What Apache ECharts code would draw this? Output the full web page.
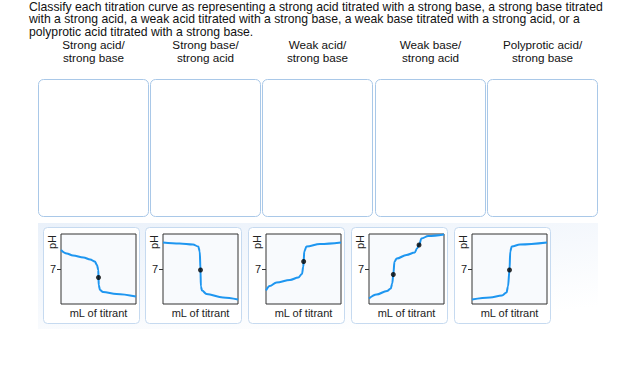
<!DOCTYPE html>
<html><head><meta charset="utf-8">
<script src="https://cdn.jsdelivr.net/npm/echarts@6/dist/echarts.min.js"></script>
<style>html,body{margin:0;padding:0;background:#fff}#c{width:638px;height:374px}</style>
</head><body><div id="c"></div>
<script>
// ---- data ----
const promptLines = [
  'Classify each titration curve as representing a strong acid titrated with a strong base, a strong base titrated',
  'with a strong acid, a weak acid titrated with a strong base, a weak base titrated with a strong acid, or a',
  'polyprotic acid titrated with a strong base.'
];
const categoriesLine1 = ['Strong acid/', 'Strong base/', 'Weak acid/', 'Weak base/', 'Polyprotic acid/'];
const categoriesLine2 = ['strong base', 'strong acid', 'strong base', 'strong acid', 'strong base'];
const xAxisName = 'mL of titrant';
const yAxisName = 'pH';
const yTickValues = [7];

// curve 1 (fraction of titrant, pH)
const curve1X = [0, 0.076, 0.16, 0.30, 0.39, 0.45, 0.48, 0.497, 0.50, 0.503, 0.52, 0.56, 0.74, 1];
const curve1Y = [10.8, 10.1, 9.7, 9.3, 8.9, 8.5, 7.8, 6.8, 5.3, 3.8, 2.8, 2.4, 2.0, 1.5];
const eq1 = [[0.50, 5.3]];
// curve 2
const curve2X = [0, 0.22, 0.40, 0.47, 0.49, 0.50, 0.505, 0.52, 0.58, 0.80, 1];
const curve2Y = [12.3, 12.1, 11.9, 11.5, 10.5, 6.8, 3.5, 2.7, 2.0, 1.3, 0.9];
const eq2 = [[0.50, 6.8]];
// curve 3
const curve3X = [0, 0.05, 0.14, 0.32, 0.43, 0.48, 0.497, 0.502, 0.51, 0.54, 0.72, 1];
const curve3Y = [2.7, 3.6, 4.3, 4.8, 5.3, 6.0, 7.5, 8.5, 10.5, 11.5, 12.0, 12.3];
const eq3 = [[0.502, 8.5]];
// curve 4
const curve4X = [0, 0.10, 0.24, 0.29, 0.31, 0.324, 0.34, 0.37, 0.50, 0.61, 0.64, 0.667, 0.70, 0.79, 1];
const curve4Y = [1.1, 1.9, 2.6, 3.1, 4.1, 5.9, 8.5, 9.1, 9.8, 10.3, 11.1, 11.8, 13.1, 13.6, 13.9];
const eq4 = [[0.324, 5.9], [0.667, 11.8]];
// curve 5
const curve5X = [0, 0.24, 0.40, 0.46, 0.48, 0.50, 0.51, 0.53, 0.64, 1];
const curve5Y = [0.9, 1.3, 1.7, 2.3, 3.5, 6.8, 10.5, 11.5, 11.9, 12.3];
const eq5 = [[0.50, 6.8]];

const curvesX = [curve1X, curve2X, curve3X, curve4X, curve5X];
const curvesY = [curve1Y, curve2Y, curve3Y, curve4Y, curve5Y];
const eqPoints = [eq1, eq2, eq3, eq4, eq5];

// ---- layout ----
const FONT = 'Arial, "Liberation Sans", sans-serif';
const boxLefts = [38, 150, 262, 375, 487];
const boxW = 111, boxTop = 79, boxH = 138;
const plotLefts = [61, 163, 266, 369, 472];
const plotW = 75, plotTop = 234, plotH = 70;

const graphic = [];
promptLines.forEach((t, i) => graphic.push({
  type: 'text', x: 29, y: 6.5 + i * 12.5, z: 5,
  style: { text: t, font: '12.2px ' + FONT, fill: '#111', verticalAlign: 'middle' }
}));
categoriesLine1.forEach((t, i) => {
  graphic.push({
    type: 'text', x: boxLefts[i] + boxW / 2, y: 44.5, z: 5,
    style: { text: t, font: '11.7px ' + FONT, fill: '#111', align: 'center', verticalAlign: 'middle' }
  });
  graphic.push({
    type: 'text', x: boxLefts[i] + boxW / 2, y: 57.7, z: 5,
    style: { text: categoriesLine2[i], font: '11.7px ' + FONT, fill: '#111', align: 'center', verticalAlign: 'middle' }
  });
});
boxLefts.forEach(l => graphic.push({
  type: 'rect', z: -10, shape: { x: l + 0.5, y: boxTop + 0.5, width: boxW - 1, height: boxH - 1, r: 5 },
  style: { fill: '#fff', stroke: '#a9c8e8', lineWidth: 1 }
}));
graphic.push({
  type: 'rect', z: -20, shape: { x: 38, y: 223, width: 560, height: 106 },
  style: { fill: new echarts.graphic.LinearGradient(0, 0, 0.7, 1, [
    { offset: 0, color: '#eaf1fa' }, { offset: 1, color: '#ffffff' }]) }
});
plotLefts.forEach(pl => {
  graphic.push({
    type: 'rect', z: -15, shape: { x: pl - 18 + 0.5, y: 227.5, width: 96, height: 96, r: 4 },
    style: { fill: '#fff', stroke: '#c6daf0', lineWidth: 1 }
  });
  graphic.push({
    type: 'text', x: pl - 9.5, y: plotTop + 8, rotation: Math.PI / 2, z: 5,
    style: { text: yAxisName, font: '11px ' + FONT, fill: '#222', align: 'center', verticalAlign: 'middle' }
  });
});

const grid = [], xAxis = [], yAxis = [], series = [];
plotLefts.forEach((pl, i) => {
  grid.push({ left: pl, top: plotTop, width: plotW, height: plotH, show: true,
    borderColor: '#333', borderWidth: 1, backgroundColor: '#f8fafd' });
  xAxis.push({ gridIndex: i, type: 'value', min: 0, max: 1,
    name: xAxisName, nameLocation: 'middle', nameGap: 3,
    nameTextStyle: { fontSize: 11, fontFamily: FONT, color: '#222' },
    axisLine: { show: false }, axisTick: { show: false }, axisLabel: { show: false }, splitLine: { show: false } });
  yAxis.push({ gridIndex: i, type: 'value', min: 0, max: 14, interval: 7,
    axisLine: { show: false }, splitLine: { show: false },
    axisTick: { show: true, length: 4, customValues: yTickValues, lineStyle: { color: '#333' } },
    axisLabel: { show: true, margin: 5, customValues: yTickValues, fontSize: 11, fontFamily: FONT, color: '#222' } });
  series.push({ type: 'line', xAxisIndex: i, yAxisIndex: i,
    data: curvesX[i].map((x, k) => [x, curvesY[i][k]]),
    smooth: 0.35, smoothMonotone: 'x', showSymbol: false, silent: true,
    lineStyle: { color: '#1e96f0', width: 2 } });
  series.push({ type: 'scatter', xAxisIndex: i, yAxisIndex: i, data: eqPoints[i],
    symbolSize: 5, itemStyle: { color: '#000' }, z: 5, silent: true });
});

const chart = echarts.init(document.getElementById('c'), null, { renderer: 'svg' });
chart.setOption({ animation: false, grid, xAxis, yAxis, series, graphic });
</script></body></html>
